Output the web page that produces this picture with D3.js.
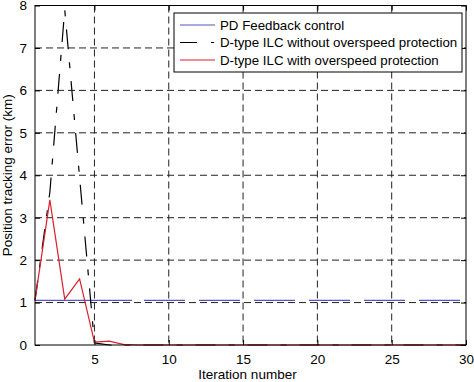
<!DOCTYPE html>
<html>
<head>
<meta charset="utf-8">
<script src="https://cdn.jsdelivr.net/npm/d3@7"></script>
<style>
body { margin: 0; background: #fff; }
svg { display: block; font-family: "Liberation Sans", Arial, sans-serif; }
</style>
</head>
<body>
<div id="chart"></div>
<script>
var iterations = d3.range(1, 31);
var pdFeedback = iterations.map(function() { return 1.05; });
var ilcNoProtect = [1.05, 3.6, 7.9, 3.95, 0.05, 0, 0, 0, 0, 0, 0, 0, 0, 0, 0,
                    0, 0, 0, 0, 0, 0, 0, 0, 0, 0, 0, 0, 0, 0, 0];
var ilcProtect = [1.05, 3.42, 1.08, 1.56, 0.07, 0.09, 0.01, 0, 0, 0, 0, 0, 0, 0, 0,
                  0, 0, 0, 0, 0, 0, 0, 0, 0, 0, 0, 0, 0, 0, 0];
var xTicks = [5, 10, 15, 20, 25, 30];
var yTicks = [0, 1, 2, 3, 4, 5, 6, 7, 8];
var seriesNames = ["PD Feedback control",
                   "D-type ILC without overspeed protection",
                   "D-type ILC with overspeed protection"];

var W = 474, H = 382;
var margin = {top: 5.5, right: 8, bottom: 37, left: 35};
var w = W - margin.left - margin.right,
    h = H - margin.top - margin.bottom;

var svg = d3.select("#chart").append("svg")
    .attr("width", W).attr("height", H);
var g = svg.append("g")
    .attr("transform", "translate(" + margin.left + "," + margin.top + ")");

var x = d3.scaleLinear().domain([1, 30]).range([0, w]);
var y = d3.scaleLinear().domain([0, 8]).range([h, 0]);

// grid
g.append("g").selectAll("line.gx")
    .data(xTicks.filter(function(d) { return d < 30; }))
    .enter().append("line")
    .attr("x1", function(d) { return x(d); }).attr("x2", function(d) { return x(d); })
    .attr("y1", 0).attr("y2", h)
    .attr("stroke", "#222").attr("stroke-dasharray", "7,4");
g.append("g").selectAll("line.gy")
    .data(yTicks.filter(function(d) { return d > 0 && d < 8; }))
    .enter().append("line")
    .attr("x1", 0).attr("x2", w)
    .attr("y1", function(d) { return y(d); }).attr("y2", function(d) { return y(d); })
    .attr("stroke", "#222").attr("stroke-dasharray", "7,4");

var line = d3.line()
    .x(function(d, i) { return x(iterations[i]); })
    .y(function(d) { return y(d); });

var styles = [
    {data: pdFeedback, color: "#5555c4", dash: "97,12,41,14,41,14,41,14,41,14,41,14,41"},
    {data: ilcNoProtect, color: "#000", dash: "20,13,6,13"},
    {data: ilcProtect, color: "#d9202c", dash: null}
];

styles.forEach(function(s) {
    g.append("path")
        .datum(s.data)
        .attr("d", line)
        .attr("fill", "none")
        .attr("stroke", s.color)
        .attr("stroke-width", 1.2)
        .attr("stroke-dasharray", s.dash);
});

// axes (MATLAB style: ticks inside, on all four sides)
var xAxis = d3.axisBottom(x).tickValues(xTicks).tickSizeInner(-5).tickSizeOuter(0).tickPadding(9);
var yAxis = d3.axisLeft(y).tickValues(yTicks).tickSizeInner(-5).tickSizeOuter(0).tickPadding(8);

var gx = g.append("g").attr("transform", "translate(0," + h + ")").call(xAxis);
var gy = g.append("g").call(yAxis);
g.append("g").call(d3.axisTop(x).tickValues(xTicks).tickSizeInner(-5).tickSizeOuter(0).tickFormat(""));
g.append("g").attr("transform", "translate(" + w + ",0)")
    .call(d3.axisRight(y).tickValues(yTicks).tickSizeInner(-5).tickSizeOuter(0).tickFormat(""));

g.selectAll(".domain").remove();
g.selectAll(".tick line").attr("stroke", "#000");
g.selectAll(".tick text").attr("font-size", 13.5).attr("fill", "#000");

g.append("rect")
    .attr("width", w).attr("height", h)
    .attr("fill", "none").attr("stroke", "#000");

svg.append("text")
    .attr("x", margin.left + w / 2 - 3).attr("y", 379)
    .attr("text-anchor", "middle").attr("font-size", 13.5)
    .text("Iteration number");
svg.append("text")
    .attr("transform", "translate(12," + (margin.top + h / 2) + ") rotate(-90)")
    .attr("text-anchor", "middle").attr("font-size", 13.5)
    .text("Position tracking error (km)");

// legend
var lg = svg.append("g").attr("transform", "translate(174,13)");
lg.append("rect").attr("width", 288).attr("height", 59)
    .attr("fill", "#fff").attr("stroke", "#000");
seriesNames.forEach(function(name, i) {
    var ry = 12 + i * 17.5;
    lg.append("line")
        .attr("x1", 6).attr("x2", 41).attr("y1", ry).attr("y2", ry)
        .attr("stroke", styles[i].color).attr("stroke-width", 1.2)
        .attr("stroke-dasharray", i === 1 ? "17,14,3,14" : null);
    lg.append("text")
        .attr("x", 46).attr("y", ry + 4.5)
        .attr("font-size", 13.3)
        .text(name);
});
</script>
</body>
</html>
